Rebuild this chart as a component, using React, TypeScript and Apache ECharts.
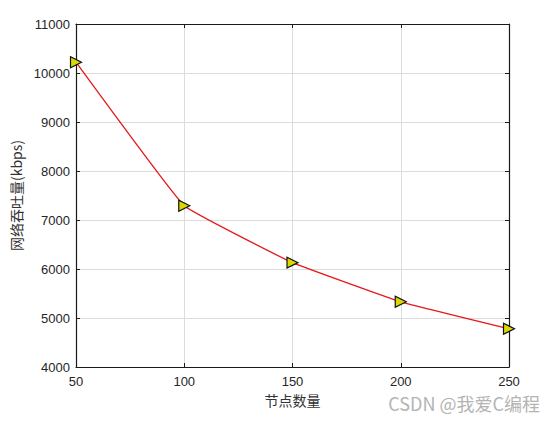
import React, { useEffect, useRef } from "react";
import * as echarts from "echarts";

const nodeCounts = [50, 100, 150, 200, 250];
const throughput = [10220, 7290, 6130, 5330, 4780];
const xTicks = { min: 50, max: 250, interval: 50 };
const yTicks = { min: 4000, max: 11000, interval: 1000 };
const xName = "节点数量";
const yName = "网络吞吐量(kbps)";
const watermark = "CSDN @我爱C编程";

export default function App() {
  const ref = useRef<HTMLDivElement>(null);
  useEffect(() => {
    if (!ref.current) return;
    const chart = echarts.init(ref.current, null, { renderer: "svg" });
    const axisLine = { show: true, lineStyle: { color: "#1a1a1a", width: 1.2 } };
    const axisTick = { show: true, inside: true, length: 4, lineStyle: { color: "#1a1a1a" } };
    const labelStyle = {
      color: "#262626",
      fontSize: 13,
      fontFamily: "Liberation Sans, Arial, sans-serif",
      formatter: (v: number) => String(v),
    };
    const nameStyle = { color: "#333333", fontSize: 14, fontFamily: "Noto Sans CJK SC, sans-serif" };
    chart.setOption({
      animation: false,
      backgroundColor: "#ffffff",
      grid: { left: 76, right: 45, top: 24, bottom: 57 },
      xAxis: [
        {
          type: "value",
          ...xTicks,
          name: xName,
          nameLocation: "middle",
          nameGap: 25,
          nameTextStyle: nameStyle,
          axisLine,
          axisTick,
          axisLabel: { ...labelStyle, margin: 8 },
          splitLine: { show: true, lineStyle: { color: "#dcdcdc" } },
        },
        {
          type: "value",
          position: "top",
          ...xTicks,
          axisLine,
          axisTick,
          axisLabel: { show: false },
          splitLine: { show: false },
        },
      ],
      yAxis: [
        {
          type: "value",
          ...yTicks,
          name: yName,
          nameLocation: "middle",
          nameGap: 49,
          nameTextStyle: nameStyle,
          axisLine,
          axisTick,
          axisLabel: { ...labelStyle, margin: 6 },
          splitLine: { show: true, lineStyle: { color: "#dcdcdc" } },
        },
        {
          type: "value",
          position: "right",
          ...yTicks,
          axisLine,
          axisTick,
          axisLabel: { show: false },
          splitLine: { show: false },
        },
      ],
      series: [
        {
          type: "line",
          data: nodeCounts.map((x, i) => [x, throughput[i]]),
          smooth: 0.08,
          lineStyle: { color: "#e61919", width: 1.3 },
          symbol: "triangle",
          symbolRotate: -90,
          symbolSize: 11,
          itemStyle: { color: "#d9d900", borderColor: "#111111", borderWidth: 1.2 },
          z: 5,
        },
      ],
      graphic: [
        {
          type: "text",
          right: 14,
          top: 394,
          style: {
            text: watermark,
            fill: "#b4b4b4",
            fontSize: 18,
            fontFamily: "Noto Sans CJK SC, sans-serif",
          },
        },
      ],
    });
    return () => chart.dispose();
  }, []);
  return <div ref={ref} style={{ width: 554, height: 424, position: "fixed", left: 0, top: 0 }} />;
}
